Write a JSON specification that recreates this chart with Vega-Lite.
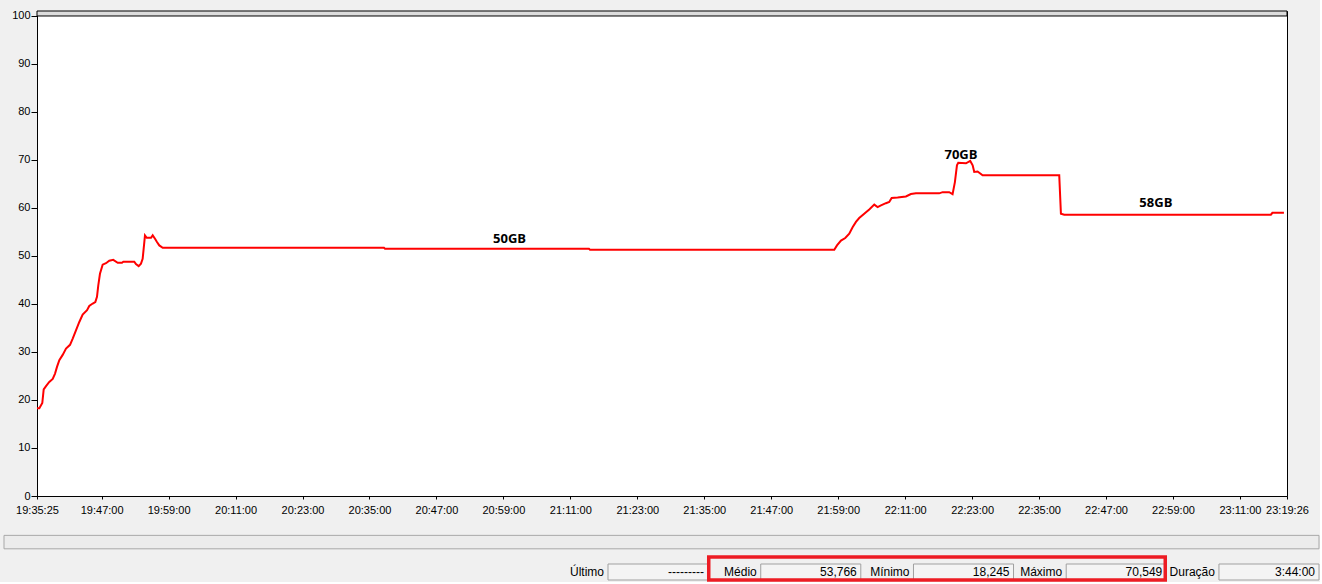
{
  "$schema": "https://vega.github.io/schema/vega-lite/v6.json",
  "background": "#f0f0f0",
  "padding": {"left": 3, "top": 9, "right": 0, "bottom": 0},
  "spacing": 5,
  "config": {
    "font": "Liberation Sans",
    "view": {"stroke": "black", "fill": "white", "strokeWidth": 1},
    "axis": {
      "domainColor": "black",
      "tickColor": "black",
      "labelColor": "black",
      "labelFont": "Liberation Sans",
      "labelFontSize": 11,
      "grid": false,
      "title": null
    }
  },
  "vconcat": [
    {
      "width": 1250,
      "height": 485,
      "layer": [
        {
          "data": {"values": [{"strip": "top"}]},
          "mark": {"type": "rect", "fill": "#dcdcdc", "stroke": "black", "strokeWidth": 1},
          "encoding": {
            "x": {"datum": {"year": 2024, "month": 1, "date": 1, "hours": 19, "minutes": 35, "seconds": 25}, "type": "temporal"},
            "x2": {"datum": {"year": 2024, "month": 1, "date": 1, "hours": 23, "minutes": 19, "seconds": 26}},
            "y": {"datum": 100, "type": "quantitative"},
            "y2": {"datum": 101.04}
          }
        },
        {
          "data": {"values": [{"bar": "scroll"}]},
          "mark": {"type": "rect", "fill": "#ececec", "stroke": "#a8a8a8", "strokeWidth": 1, "clip": false, "xOffset": -33, "x2Offset": 32},
          "encoding": {
            "x": {"datum": {"year": 2024, "month": 1, "date": 1, "hours": 19, "minutes": 35, "seconds": 25}, "type": "temporal"},
            "x2": {"datum": {"year": 2024, "month": 1, "date": 1, "hours": 23, "minutes": 19, "seconds": 26}},
            "y": {"datum": -8.2, "type": "quantitative"},
            "y2": {"datum": -11.0}
          }
        },
        {
          "data": {"values": [
            {"time": "2024-01-01T19:35:25", "value": 18.3},
            {"time": "2024-01-01T19:35:50", "value": 18.3},
            {"time": "2024-01-01T19:36:22", "value": 19.4},
            {"time": "2024-01-01T19:36:37", "value": 22.2},
            {"time": "2024-01-01T19:37:02", "value": 22.9},
            {"time": "2024-01-01T19:37:37", "value": 23.75},
            {"time": "2024-01-01T19:38:14", "value": 24.4},
            {"time": "2024-01-01T19:38:39", "value": 25.5},
            {"time": "2024-01-01T19:39:00", "value": 26.9},
            {"time": "2024-01-01T19:39:25", "value": 28.3},
            {"time": "2024-01-01T19:40:01", "value": 29.4},
            {"time": "2024-01-01T19:40:37", "value": 30.7},
            {"time": "2024-01-01T19:41:20", "value": 31.5},
            {"time": "2024-01-01T19:41:49", "value": 32.8},
            {"time": "2024-01-01T19:42:24", "value": 34.5},
            {"time": "2024-01-01T19:43:00", "value": 36.25},
            {"time": "2024-01-01T19:43:36", "value": 37.8},
            {"time": "2024-01-01T19:44:23", "value": 38.7},
            {"time": "2024-01-01T19:44:47", "value": 39.6},
            {"time": "2024-01-01T19:45:24", "value": 40.1},
            {"time": "2024-01-01T19:45:52", "value": 40.4},
            {"time": "2024-01-01T19:46:10", "value": 41.5},
            {"time": "2024-01-01T19:46:24", "value": 43.9},
            {"time": "2024-01-01T19:46:42", "value": 46.3},
            {"time": "2024-01-01T19:47:11", "value": 48.2},
            {"time": "2024-01-01T19:47:47", "value": 48.5},
            {"time": "2024-01-01T19:48:22", "value": 49.0},
            {"time": "2024-01-01T19:49:05", "value": 49.2},
            {"time": "2024-01-01T19:49:53", "value": 48.6},
            {"time": "2024-01-01T19:50:39", "value": 48.6},
            {"time": "2024-01-01T19:50:53", "value": 48.8},
            {"time": "2024-01-01T19:52:51", "value": 48.8},
            {"time": "2024-01-01T19:53:09", "value": 48.3},
            {"time": "2024-01-01T19:53:38", "value": 47.9},
            {"time": "2024-01-01T19:54:03", "value": 48.4},
            {"time": "2024-01-01T19:54:21", "value": 49.4},
            {"time": "2024-01-01T19:54:39", "value": 52.9},
            {"time": "2024-01-01T19:54:46", "value": 54.3},
            {"time": "2024-01-01T19:55:05", "value": 53.8},
            {"time": "2024-01-01T19:55:51", "value": 53.8},
            {"time": "2024-01-01T19:56:09", "value": 54.3},
            {"time": "2024-01-01T19:56:34", "value": 53.6},
            {"time": "2024-01-01T19:56:55", "value": 52.9},
            {"time": "2024-01-01T19:57:20", "value": 52.2},
            {"time": "2024-01-01T19:57:57", "value": 51.7},
            {"time": "2024-01-01T20:37:36", "value": 51.7},
            {"time": "2024-01-01T20:37:47", "value": 51.5},
            {"time": "2024-01-01T21:14:20", "value": 51.5},
            {"time": "2024-01-01T21:14:31", "value": 51.3},
            {"time": "2024-01-01T21:58:18", "value": 51.3},
            {"time": "2024-01-01T21:58:47", "value": 52.2},
            {"time": "2024-01-01T21:59:30", "value": 53.2},
            {"time": "2024-01-01T22:00:16", "value": 53.75},
            {"time": "2024-01-01T22:00:59", "value": 54.65},
            {"time": "2024-01-01T22:01:35", "value": 56.0},
            {"time": "2024-01-01T22:02:11", "value": 57.1},
            {"time": "2024-01-01T22:02:46", "value": 57.9},
            {"time": "2024-01-01T22:03:40", "value": 58.8},
            {"time": "2024-01-01T22:04:34", "value": 59.7},
            {"time": "2024-01-01T22:05:28", "value": 60.7},
            {"time": "2024-01-01T22:06:04", "value": 60.2},
            {"time": "2024-01-01T22:06:40", "value": 60.55},
            {"time": "2024-01-01T22:07:33", "value": 61.0},
            {"time": "2024-01-01T22:08:09", "value": 61.25},
            {"time": "2024-01-01T22:08:35", "value": 62.1},
            {"time": "2024-01-01T22:09:39", "value": 62.2},
            {"time": "2024-01-01T22:11:08", "value": 62.4},
            {"time": "2024-01-01T22:12:02", "value": 62.9},
            {"time": "2024-01-01T22:12:56", "value": 63.05},
            {"time": "2024-01-01T22:17:06", "value": 63.05},
            {"time": "2024-01-01T22:17:43", "value": 63.3},
            {"time": "2024-01-01T22:18:54", "value": 63.3},
            {"time": "2024-01-01T22:19:30", "value": 62.9},
            {"time": "2024-01-01T22:19:55", "value": 65.4},
            {"time": "2024-01-01T22:20:17", "value": 68.9},
            {"time": "2024-01-01T22:20:31", "value": 69.4},
            {"time": "2024-01-01T22:21:54", "value": 69.3},
            {"time": "2024-01-01T22:22:40", "value": 69.8},
            {"time": "2024-01-01T22:23:06", "value": 68.9},
            {"time": "2024-01-01T22:23:23", "value": 67.5},
            {"time": "2024-01-01T22:23:59", "value": 67.6},
            {"time": "2024-01-01T22:24:53", "value": 66.8},
            {"time": "2024-01-01T22:38:37", "value": 66.8},
            {"time": "2024-01-01T22:38:55", "value": 58.8},
            {"time": "2024-01-01T22:39:31", "value": 58.6},
            {"time": "2024-01-01T23:16:33", "value": 58.6},
            {"time": "2024-01-01T23:16:49", "value": 59.0},
            {"time": "2024-01-01T23:18:53", "value": 59.0}
          ]},
          "mark": {"type": "line", "color": "#ff0000", "strokeWidth": 2, "interpolate": "linear"},
          "encoding": {
            "x": {
              "field": "time",
              "type": "temporal",
              "scale": {"domain": [
                {"year": 2024, "month": 1, "date": 1, "hours": 19, "minutes": 35, "seconds": 25},
                {"year": 2024, "month": 1, "date": 1, "hours": 23, "minutes": 19, "seconds": 26}
              ]},
              "axis": {
                "format": "%H:%M:%S",
                "tickSize": 3,
                "labelPadding": 5,
                "labelOverlap": false,
                "labelFlush": false,
                "values": [
                  {"year": 2024, "month": 1, "date": 1, "hours": 19, "minutes": 35, "seconds": 25},
                  {"year": 2024, "month": 1, "date": 1, "hours": 19, "minutes": 47},
                  {"year": 2024, "month": 1, "date": 1, "hours": 19, "minutes": 59},
                  {"year": 2024, "month": 1, "date": 1, "hours": 20, "minutes": 11},
                  {"year": 2024, "month": 1, "date": 1, "hours": 20, "minutes": 23},
                  {"year": 2024, "month": 1, "date": 1, "hours": 20, "minutes": 35},
                  {"year": 2024, "month": 1, "date": 1, "hours": 20, "minutes": 47},
                  {"year": 2024, "month": 1, "date": 1, "hours": 20, "minutes": 59},
                  {"year": 2024, "month": 1, "date": 1, "hours": 21, "minutes": 11},
                  {"year": 2024, "month": 1, "date": 1, "hours": 21, "minutes": 23},
                  {"year": 2024, "month": 1, "date": 1, "hours": 21, "minutes": 35},
                  {"year": 2024, "month": 1, "date": 1, "hours": 21, "minutes": 47},
                  {"year": 2024, "month": 1, "date": 1, "hours": 21, "minutes": 59},
                  {"year": 2024, "month": 1, "date": 1, "hours": 22, "minutes": 11},
                  {"year": 2024, "month": 1, "date": 1, "hours": 22, "minutes": 23},
                  {"year": 2024, "month": 1, "date": 1, "hours": 22, "minutes": 35},
                  {"year": 2024, "month": 1, "date": 1, "hours": 22, "minutes": 47},
                  {"year": 2024, "month": 1, "date": 1, "hours": 22, "minutes": 59},
                  {"year": 2024, "month": 1, "date": 1, "hours": 23, "minutes": 11},
                  {"year": 2024, "month": 1, "date": 1, "hours": 23, "minutes": 19, "seconds": 26}
                ]
              }
            },
            "y": {
              "field": "value",
              "type": "quantitative",
              "scale": {"domain": [0, 101.04], "nice": false},
              "axis": {"values": [0, 10, 20, 30, 40, 50, 60, 70, 80, 90, 100], "tickSize": 6, "labelPadding": 1}
            }
          }
        },
        {
          "data": {"values": [
            {"label": "50GB", "time": "2024-01-01T21:00:06", "value": 53.5},
            {"label": "70GB", "time": "2024-01-01T22:21:00", "value": 71.1},
            {"label": "58GB", "time": "2024-01-01T22:55:56", "value": 61.0}
          ]},
          "mark": {"type": "text", "font": "Open Sans", "fontSize": 13, "fontWeight": "bold", "color": "black", "baseline": "middle", "align": "center"},
          "encoding": {
            "x": {"field": "time", "type": "temporal"},
            "y": {"field": "value", "type": "quantitative"},
            "text": {"field": "label"}
          }
        }
      ]
    },
    {
      "width": 1282,
      "height": 16,
      "view": {"stroke": null, "fill": null},
      "data": {"values": [
        {"label": "Último", "value": "---------"},
        {"label": "Médio", "value": "53,766"},
        {"label": "Mínimo", "value": "18,245"},
        {"label": "Máximo", "value": "70,549"},
        {"label": "Duração", "value": "3:44:00"}
      ]},
      "layer": [
        {
          "mark": {"type": "rect", "fill": "#f4f4f4", "stroke": "#a0a0a0", "strokeWidth": 1},
          "encoding": {
            "x": {"field": "label", "type": "nominal", "sort": null, "axis": null,
              "scale": {"range": [571, 1282], "paddingInner": 0.345, "paddingOuter": 0, "round": false}}
          }
        },
        {
          "mark": {"type": "text", "align": "right", "baseline": "middle", "dx": -4, "fontSize": 12, "color": "black"},
          "encoding": {
            "x": {"field": "label", "type": "nominal", "sort": null, "bandPosition": 0},
            "text": {"field": "label"}
          }
        },
        {
          "mark": {"type": "text", "align": "right", "baseline": "middle", "dx": -4, "fontSize": 12, "color": "black"},
          "encoding": {
            "x": {"field": "label", "type": "nominal", "sort": null, "bandPosition": 1},
            "text": {"field": "value"}
          }
        },
        {
          "data": {"values": [{"box": "stats"}]},
          "mark": {"type": "rect", "fill": null, "stroke": "#ed1c24", "strokeWidth": 3.5, "yOffset": -7, "y2Offset": 5, "xOffset": -52, "x2Offset": -1},
          "encoding": {
            "x": {"datum": "Médio", "type": "nominal", "bandPosition": 0},
            "x2": {"datum": "Máximo", "bandPosition": 1}
          }
        }
      ]
    }
  ]
}
